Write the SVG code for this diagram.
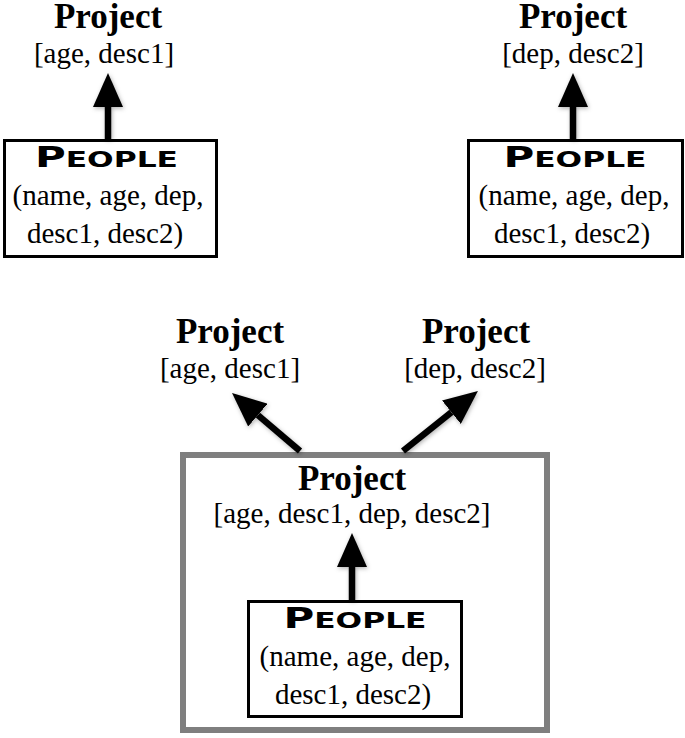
<svg xmlns="http://www.w3.org/2000/svg" width="685" height="738" viewBox="0 0 685 738">
<style>
.title{font-family:"Liberation Serif","Times New Roman",serif;font-weight:bold;font-size:35px;fill:#000;text-anchor:middle}
.attr{font-family:"Liberation Serif","Times New Roman",serif;font-size:29px;fill:#000;text-anchor:middle}
.people{font-family:"DejaVu Sans",sans-serif;font-weight:bold;fill:#000;text-anchor:middle}
.box{fill:#fff;stroke:#000;stroke-width:3}
.outer{fill:#fff;stroke:#7f7f7f;stroke-width:6}
.arrow{stroke:#000;stroke-width:6.5;fill:none;marker-end:url(#head)}
</style>
<defs>
<marker id="head" markerUnits="userSpaceOnUse" viewBox="0 -15 34 30" refX="0" refY="0" markerWidth="34" markerHeight="30" orient="auto">
<path d="M0,-15 L34,0 L0,15 z" fill="#000"/>
</marker>
<filter id="shadow" x="-30%" y="-30%" width="160%" height="160%">
<feDropShadow dx="1" dy="1.5" stdDeviation="2" flood-color="#000" flood-opacity="0.3"/>
</filter>
</defs>
<rect width="685" height="738" fill="#fff"/>

<g id="proj-left-top">
<text class="title" x="108" y="28">Project</text>
<text class="attr" x="104" y="63">[age, desc1]</text>
</g>
<g id="proj-right-top">
<text class="title" x="573" y="28">Project</text>
<text class="attr" x="573" y="63">[dep, desc2]</text>
</g>

<g id="people-left-top">
<rect class="box" x="4.5" y="140.5" width="212" height="116"/>
<text class="people" x="106.5" y="167" textLength="143" lengthAdjust="spacingAndGlyphs"><tspan font-size="27.5">P</tspan><tspan font-size="20.5">EOPLE</tspan></text>
<text class="attr" x="108" y="205">(name, age, dep,</text>
<text class="attr" x="105" y="243">desc1, desc2)</text>
</g>

<g id="people-right-top">
<rect class="box" x="468.5" y="140.5" width="214" height="116"/>
<text class="people" x="575" y="167" textLength="143" lengthAdjust="spacingAndGlyphs"><tspan font-size="27.5">P</tspan><tspan font-size="20.5">EOPLE</tspan></text>
<text class="attr" x="574" y="205">(name, age, dep,</text>
<text class="attr" x="572" y="243">desc1, desc2)</text>
</g>

<g id="proj-left-bottom">
<text class="title" x="230" y="343">Project</text>
<text class="attr" x="230" y="378">[age, desc1]</text>
</g>
<g id="proj-right-bottom">
<text class="title" x="476" y="343">Project</text>
<text class="attr" x="475" y="378">[dep, desc2]</text>
</g>

<g id="combined">
<rect class="outer" x="183" y="455" width="364" height="275"/>
<g id="proj-combined">
<text class="title" x="352" y="490">Project</text>
<text class="attr" x="352" y="523">[age, desc1, dep, desc2]</text>
</g>
<g id="people-combined">
<rect class="box" x="248.5" y="601.5" width="213" height="115"/>
<text class="people" x="355" y="628" textLength="143" lengthAdjust="spacingAndGlyphs"><tspan font-size="27.5">P</tspan><tspan font-size="20.5">EOPLE</tspan></text>
<text class="attr" x="355" y="666">(name, age, dep,</text>
<text class="attr" x="353" y="704">desc1, desc2)</text>
</g>
</g>

<g id="connectors" filter="url(#shadow)">
<line class="arrow" x1="108" y1="139" x2="108" y2="107"/>
<line class="arrow" x1="573" y1="139" x2="573" y2="107"/>
<line class="arrow" x1="352" y1="600" x2="352" y2="567"/>
<line class="arrow" x1="300" y1="451" x2="257.9" y2="415.1"/>
<line class="arrow" x1="403" y1="451" x2="451.4" y2="412.25"/>
</g>
</svg>
